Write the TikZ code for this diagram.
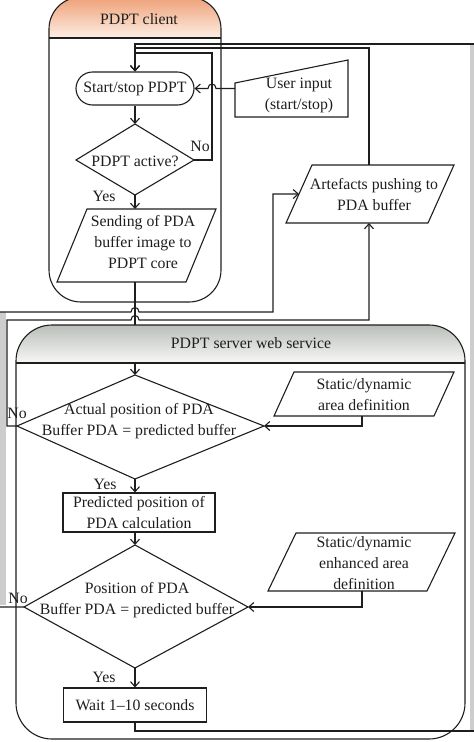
\documentclass[tikz,border=0pt]{standalone}
\usepackage{fontspec}
\setmainfont{Liberation Serif}
\usetikzlibrary{arrows.meta}
\definecolor{clienttop}{RGB}{238,160,118}
\definecolor{clientbot}{RGB}{253,238,229}
\definecolor{servtop}{RGB}{186,191,186}
\definecolor{servbot}{RGB}{248,248,246}
\definecolor{ink}{RGB}{30,30,30}
\definecolor{strip}{RGB}{205,205,205}
\begin{document}
\begin{tikzpicture}[x=1pt,y=-1pt,
  every node/.style={font=\fontsize{15.8}{21}\selectfont, align=center, inner sep=0pt, text=ink},
  ln/.style={line width=1.1pt, draw=ink, line join=miter},
  arr/.style={ln, -{Straight Barb[length=5pt,width=9pt]}},
  boxnode/.style={draw=ink, line width=1.1pt, rectangle},
  lane/.style={draw=ink, line width=1.1pt},
]
\useasboundingbox (0,0) rectangle (474,742);

% edge strips of the clipped original
\fill[strip] (0,312) rectangle (6,605);
\fill[strip] (469.5,44) rectangle (474,731);

% coordinates of drawn shapes
\coordinate (actN) at (135,124);
\coordinate (actE) at (194,160);
\coordinate (actS) at (135,195);
\coordinate (actW) at (76,160);
\coordinate (sendN) at (135,209);
\coordinate (sendS) at (135,282);
\coordinate (uiW) at (235,88.5);
\coordinate (artN) at (369,165);
\coordinate (artS) at (369,223);
\coordinate (artW) at (299,194);
\coordinate (statS) at (362,416);
\coordinate (enhS) at (362,591);
\coordinate (d1N) at (135,375);
\coordinate (d1W) at (17,426);
\coordinate (d1E) at (264,426);
\coordinate (d1S) at (135,479);
\coordinate (d2N) at (135,545);
\coordinate (d2W) at (24,607);
\coordinate (d2E) at (248,607);
\coordinate (d2S) at (135,668);

% connector sending -> server (passes under server header)
\draw[arr] (sendS) -- (d1N);

% server lane
\begin{scope}
  \clip[rounded corners=36pt] (16,325) rectangle (465,739);
  \shade[top color=servtop, bottom color=servbot] (16,325) rectangle (465,363);
\end{scope}
\draw[lane, rounded corners=36pt] (16,325) rectangle (465,739);
\draw[lane] (16,363) -- (465,363);
\node (serverhdr) at (251,343) {PDPT server web service};

% client lane
\begin{scope}
  \clip[rounded corners=32pt] (49,-3) rectangle (221,302);
  \shade[top color=clienttop, bottom color=clientbot] (49,-3) rectangle (221,38);
\end{scope}
\draw[lane, rounded corners=32pt] (49,-3) rectangle (221,302);
\draw[lane] (49,38) -- (221,38);
\node (clienthdr) at (139,19) {PDPT client};

% shapes
\node[boxnode, rounded corners=16.5pt, minimum width=118pt, minimum height=33pt] (start) at (135,88.5) {Start/stop PDPT};

\draw[ln] (235,83) -- (348,60) -- (348,117) -- (235,117) -- cycle;
\node (ui) at (299,95) {User input\\(start/stop)};

\draw[ln] (actN) -- (actE) -- (actS) -- (actW) -- cycle;
\node (act) at (135,161) {PDPT active?};

\draw[ln] (87,209) -- (216,209) -- (186,282) -- (57,282) -- cycle;
\node (send) at (143,242) {Sending of PDA\\buffer image to\\PDPT core};

\draw[ln] (312,165) -- (454,165) -- (428,223) -- (286,223) -- cycle;
\node (art) at (374,195) {Artefacts pushing to\\PDA buffer};

\draw[ln] (294,372) -- (454,372) -- (434,416) -- (274,416) -- cycle;
\node (stat) at (364,394.5) {Static/dynamic\\area definition};

\draw[ln] (d1N) -- (d1E) -- (d1S) -- (d1W) -- cycle;
\node (d1) at (139,421.5) {Actual position of PDA\\Buffer PDA = predicted buffer};

\node[boxnode, minimum width=152pt, minimum height=39pt] (pred) at (139,512.5) {Predicted position of\\PDA calculation};

\draw[ln] (296,533) -- (455,533) -- (427,591) -- (268,591) -- cycle;
\node (enh) at (364,563) {Static/dynamic\\enhanced area\\definition};

\draw[ln] (d2N) -- (d2E) -- (d2S) -- (d2W) -- cycle;
\node (d2) at (137,600) {Position of PDA\\Buffer PDA = predicted buffer};

\node[boxnode, minimum width=143pt, minimum height=34pt] (wait) at (135,705) {Wait 1--10 seconds};

% labels
\node (no1) at (200,146) {No};
\node (yes1) at (104,196) {Yes};
\node (no2) at (17,413) {No};
\node (yes2) at (105,484) {Yes};
\node (no3) at (18,598) {No};
\node (yes3) at (104,677) {Yes};

% connectors
\draw[arr] (start.south) -- (actN);
\draw[arr] (actS) -- (sendN);
\draw[arr] (actE) -- (212,160) -- (212,53) -- (135,53) -- (start.north);
\draw[arr] (uiW) -- (216,88.5) .. controls (216,82.5) and (208,82.5) .. (208,88.5) -- (start.east);
\draw[arr] (artN) -- (369,48) -- (135,48) -- (start.north);
\draw[arr] (wait.south) -- (135,731) -- (477,731) -- (477,44) -- (135,44) -- (start.north);
\draw[arr] (d1W) -- (7,426) -- (7,320) -- (131,320) .. controls (131,314) and (139,314) .. (139,320) -- (369,320) -- (artS);
\draw[arr] (d2W) -- (-3,607) -- (-3,312) -- (131,312) .. controls (131,306) and (139,306) .. (139,312) -- (273,312) -- (273,194) -- (artW);
\draw[arr] (statS) |- (d1E);
\draw[arr] (d1S) -- (d1S |- pred.north);
\draw[arr] (d2N |- pred.south) -- (d2N);
\draw[arr] (enhS) |- (d2E);
\draw[arr] (d2S) -- (d2S |- wait.north);
\end{tikzpicture}
\end{document}
